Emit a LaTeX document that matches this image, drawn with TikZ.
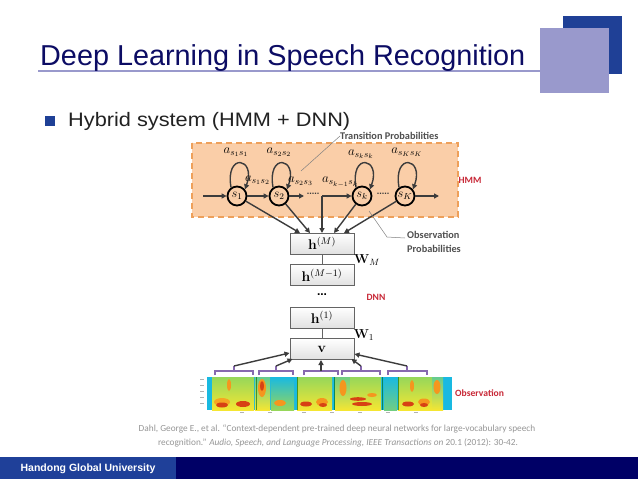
\RequirePackage{fix-cm}
\documentclass[tikz,border=0pt]{standalone}
\usepackage[no-math]{fontspec}
\setmainfont{Liberation Sans}
\newfontfamily\calfont{Carlito}
\usetikzlibrary{arrows.meta,calc}
\definecolor{titlenavy}{RGB}{12,12,100}
\definecolor{sqdark}{RGB}{31,64,150}
\definecolor{sqlight}{RGB}{153,153,204}
\definecolor{textgrey}{RGB}{34,34,34}
\definecolor{footblue}{RGB}{31,64,153}
\definecolor{footnavy}{RGB}{0,0,102}
\definecolor{hmmfill}{RGB}{250,206,168}
\definecolor{hmmborder}{RGB}{238,160,90}
\definecolor{arrgrey}{RGB}{60,60,60}
\definecolor{boxgrey}{RGB}{100,100,100}
\definecolor{boxfill}{RGB}{225,225,225}
\definecolor{bracketpurple}{RGB}{135,105,175}
\definecolor{labred}{RGB}{200,40,55}
\definecolor{labgrey}{RGB}{80,80,80}
\definecolor{citegrey}{RGB}{150,150,150}
\definecolor{cyanS}{RGB}{25,185,225}
\definecolor{greenS}{RGB}{150,215,90}
\definecolor{yellowS}{RGB}{245,230,50}
\definecolor{orangeS}{RGB}{245,150,30}
\definecolor{redS}{RGB}{215,65,20}
\tikzset{
  state/.style={circle, draw=black, line width=1.8pt, minimum size=19pt, inner sep=0pt, font=\fontsize{12.5}{12.5}\selectfont},
  arr/.style={-{Triangle[length=5pt,width=5pt]}, line width=1.4pt, draw=arrgrey},
  loopst/.style={-{Triangle[length=5pt,width=5pt]}, line width=1.4pt, draw=arrgrey},
  alab/.style={inner sep=0pt, font=\fontsize{13}{13}\selectfont},
  dnnbox/.style={draw=boxgrey, line width=1pt, top color=white, bottom color=boxfill, minimum width=64pt, minimum height=21pt, inner sep=0pt, font=\fontsize{14}{14}\selectfont},
  conn/.style={line width=1pt, draw=boxgrey},
  redlab/.style={inner sep=0pt, text=labred, font=\calfont\bfseries\fontsize{9.6}{10}\selectfont},
  greylab/.style={inner sep=0pt, text=labgrey, font=\calfont\bfseries\fontsize{10.3}{14.5}\selectfont},
  leader/.style={line width=0.5pt, draw=gray},
  bracket/.style={line width=1.5pt, draw=bracketpurple},
  cite/.style={inner sep=0pt, text=citegrey, font=\calfont\fontsize{9.3}{10}\selectfont},
}
\begin{document}
\begin{tikzpicture}[x=1pt,y=-1pt]
\useasboundingbox (0,0) rectangle (638,479);
\fill[white] (0,0) rectangle (638,479);
% corner squares
\fill[sqdark] (563,16) rectangle (622,74);
\fill[sqlight] (540,28) rectangle (609,93);
% title
\draw[sqlight, line width=1.2pt] (38,71) -- (540,71);
\node[anchor=base west, inner sep=0pt, text=titlenavy, font=\fontsize{28.8}{31}\selectfont] (title) at (40,65) {Deep Learning in Speech Recognition};
% bullet
\fill[sqdark] (45,116) rectangle (55,126);
\node[anchor=base west, inner sep=0pt, text=textgrey, font=\fontsize{19.5}{22}\selectfont] (hyb) at (68,126) {\scalebox{1.115}[1]{Hybrid system (HMM + DNN)}};
% HMM box
\draw[draw=hmmborder, fill=hmmfill, line width=1.3pt, dash pattern=on 6pt off 4pt] (192,143) rectangle (458,217);
\node[redlab] (hmm) at (470,180) {HMM};
\node[greylab, anchor=west] (tp) at (340,136) {Transition Probabilities};
\coordinate (tpend) at (301,171);
\draw[leader] (tp.west) -- (tpend);
% states
\node[state] (s1) at (237,196) {$s_1$};
\node[state] (s2) at (279,196) {$s_2$};
\node[state] (sk) at (362,196) {$s_k$};
\node[state] (sK) at (405,196) {$s_K$};
\coordinate (in) at (203,196);
\coordinate (d1e) at (304,196);
\coordinate (d1) at (322,196);
\coordinate (out) at (439,196);
\node[inner sep=0pt, font=\bfseries\fontsize{9}{9}\selectfont, text=arrgrey] (dots1) at (313,194) {.....};
\node[inner sep=0pt, font=\bfseries\fontsize{9}{9}\selectfont, text=arrgrey] (dots2) at (383,194) {.....};
\draw[arr] (in) -- (s1);
\draw[arr] (s1) -- (s2);
\draw[arr] (s2) -- (d1e);
\draw[arr] (d1) -- (sk);
\draw[arr] (sK) -- (out);
% self loops
\foreach \s in {s1,s2,sk,sK}{
  \draw[loopst] (\s.125) .. controls +(-100:36) and +(-70:34) .. (\s.40);
}
% transition labels
\node[alab] (a11) at (236,152) {$a_{s_1s_1}$};
\node[alab] (a22) at (279,152) {$a_{s_2s_2}$};
\node[alab] (akk) at (361,154) {$a_{s_ks_k}$};
\node[alab] (aKK) at (407,152) {$a_{s_Ks_K}$};
\node[alab, anchor=west] (a12) at (245,180) {$a_{s_1s_2}$};
\node[alab, anchor=west] (a23) at (288,181) {$a_{s_2s_3}$};
\node[alab, anchor=west] (ak1) at (322,182) {$a_{s_{k-1}s_k}$};
% DNN boxes
\node[dnnbox] (hM) at (322,243.5) {$\mathbf{h}^{(M)}$};
\node[dnnbox] (hM1) at (322,275) {$\mathbf{h}^{(M-1)}$};
\node[inner sep=0pt, font=\bfseries\fontsize{12}{12}\selectfont, text=black] (vdots) at (322,295) {...};
\node[dnnbox] (h1) at (322,317.5) {$\mathbf{h}^{(1)}$};
\node[dnnbox] (v) at (322,349) {$\mathbf{v}$};
\draw[conn] (hM) -- (hM1);
\draw[conn] (h1) -- (v);
\node[alab] (WM) at (367,260) {$\mathbf{W}_{M}$};
\node[alab] (W1) at (364,335) {$\mathbf{W}_{1}$};
\node[redlab] (dnn) at (376,297) {DNN};
% HMM -> h(M)
\coordinate (t1) at (300,233);
\coordinate (t2) at (310,233);
\coordinate (t3) at (322,233);
\coordinate (t4) at (334,233);
\coordinate (t5) at (344,233);
\draw[arr] (s1) -- (t1);
\draw[arr] (s2) -- (t2);
\draw[arr] (d1) -- (t3);
\draw[arr] (sk) -- (t4);
\draw[arr] (sK) -- (t5);
% observation probabilities label
\node[greylab, anchor=north west, align=left] (op) at (407,231) {Observation\\Probabilities};
\coordinate (ol1) at (369,211);
\coordinate (ol2) at (387,237);
\coordinate (ol3) at (405,238);
\draw[leader] (ol1) -- (ol2) -- (ol3);
% spectrogram
\begin{scope}
\clip (207,377) rectangle (452,410);
\fill[cyanS] (207,377) rectangle (452,410);
\fill[top color=greenS, bottom color=yellowS] (212,377) rectangle (254,410);
\fill[top color=greenS!60!cyanS, bottom color=yellowS] (255,377) rectangle (270,410);
\fill[top color=cyanS, bottom color=greenS] (271,377) rectangle (294,410);
\fill[top color=greenS, bottom color=yellowS] (297,377) rectangle (332,410);
\fill[top color=greenS!70!cyanS, bottom color=yellowS] (335,377) rectangle (350,410);
\fill[top color=greenS, bottom color=yellowS] (350,377) rectangle (381,410);
\fill[top color=cyanS, bottom color=greenS!70!cyanS] (384,377) rectangle (397,410);
\fill[top color=greenS, bottom color=yellowS] (398,377) rectangle (432,410);
\fill[top color=greenS!60!cyanS, bottom color=yellowS] (432,377) rectangle (443,410);
% blobs
\fill[orangeS] (262,388) ellipse (4pt and 9pt);
\fill[redS] (262,386) ellipse (2pt and 5pt);
\fill[orangeS] (343,388) ellipse (3.5pt and 8pt);
\fill[orangeS] (437,387) ellipse (3.5pt and 7pt);
\fill[orangeS] (229,385) ellipse (2pt and 6pt);
\fill[orangeS] (412,386) ellipse (2pt and 6pt);
\fill[orangeS!80!yellowS] (222,402) ellipse (8pt and 4pt);
\fill[redS] (222,405) ellipse (6pt and 2.5pt);
\fill[redS] (243,404) ellipse (7pt and 3pt);
\fill[orangeS] (280,403) ellipse (6pt and 3pt);
\fill[redS] (306,404) ellipse (6pt and 2.5pt);
\fill[orangeS] (322,402) ellipse (6pt and 4pt);
\fill[redS] (323,405) ellipse (4pt and 2pt);
\fill[redS] (358,399) ellipse (8pt and 1.8pt);
\fill[redS] (362,404) ellipse (10pt and 2pt);
\fill[orangeS] (372,395) ellipse (5pt and 2pt);
\fill[redS] (408,404) ellipse (6pt and 2.5pt);
\fill[orangeS] (424,402) ellipse (6pt and 3.5pt);
\fill[redS] (424,405) ellipse (4pt and 2pt);
\draw[green!40!black, line width=0.5pt, opacity=0.6] (256,377) -- (256,410);
\draw[green!40!black, line width=0.5pt, opacity=0.6] (297,377) -- (297,410);
\draw[green!40!black, line width=0.5pt, opacity=0.6] (334,377) -- (334,410);
\draw[green!40!black, line width=0.5pt, opacity=0.6] (382,377) -- (382,410);
\draw[green!40!black, line width=0.5pt, opacity=0.6] (398,377) -- (398,410);
\end{scope}
\foreach \yy in {379,385,391,397,403}{ \draw[gray!60, line width=0.6pt] (200,\yy) -- (204,\yy); }
\foreach \xx in {240,268,302,330,358,386,414}{ \draw[gray!60, line width=0.6pt] (\xx,412) -- (\xx+4,412); }
\node[redlab, anchor=west] (obs) at (455,393) {Observation};
% brackets
\foreach \l/\r in {215/253,259/293,304/338,342/380,388/427}{
  \draw[bracket] (\l,375) -- (\l,371) -- (\r,371) -- (\r,375);
}
\coordinate (b1) at (234,366);
\coordinate (b2) at (276,366);
\coordinate (b3) at (321,371);
\coordinate (b4) at (361,366);
\coordinate (b5) at (407,366);
\draw[bracket] (234,371) -- (b1);
\draw[bracket] (276,371) -- (b2);
\draw[bracket] (361,371) -- (b4);
\draw[bracket] (407,371) -- (b5);
\draw[arr] (b1) -- ($(v.west)+(0,4)$);
\draw[arr] (b2) -- ($(v.south west)+(3,-1)$);
\draw[arr] (b3) -- ($(v.south)+(-1,0)$);
\draw[arr] (b4) -- ($(v.south east)+(-3,-1)$);
\draw[arr] (b5) -- ($(v.east)+(0,5)$);
% citation
\node[cite, anchor=base] (cit1) at (337,431) {Dahl, George E., et al. “Context-dependent pre-trained deep neural networks for large-vocabulary speech};
\node[cite, anchor=base] (cit2) at (338,445) {recognition.” \textit{Audio, Speech, and Language Processing, IEEE Transactions on} 20.1 (2012): 30-42.};
% footer
\fill[footblue] (0,457) rectangle (176,479);
\fill[footnavy] (176,457) rectangle (638,479);
\node[inner sep=0pt, text=white, font=\bfseries\fontsize{10.5}{12}\selectfont] (uni) at (88,469) {Handong Global University};
\end{tikzpicture}
\end{document}
